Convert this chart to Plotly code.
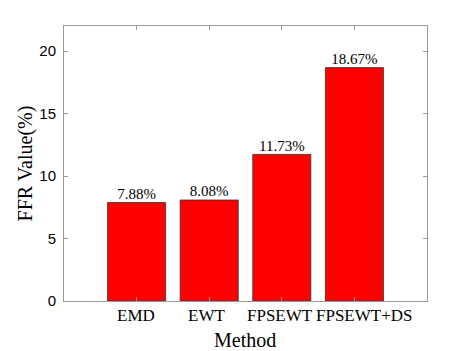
import plotly.graph_objects as go

methods = ["EMD", "EWT", "FPSEWT", "FPSEWT+DS"]
positions = [1, 2, 3, 4]
ffr_values = [7.88, 8.08, 11.73, 18.67]
labels = [f"{v:.2f}%" for v in ffr_values]
label_shifts = [-1, -3, -2, 10]

fig = go.Figure()
fig.add_trace(go.Bar(
    x=positions, y=ffr_values, width=0.8,
    marker=dict(color="#FF0000", line=dict(color="#333333", width=0.8)),
    showlegend=False,
))
fig.add_trace(go.Scatter(
    x=positions, y=ffr_values, mode="text", text=labels,
    textposition="top center",
    textfont=dict(family="Liberation Serif", size=15, color="black"),
    showlegend=False, cliponaxis=False,
))

for pos, name, dx in zip(positions, methods, label_shifts):
    fig.add_annotation(x=pos, y=0, xref="x", yref="y", text=name, showarrow=False,
                       xanchor="center", yanchor="top", yshift=-3, xshift=dx,
                       font=dict(family="Liberation Serif", size=17, color="black"))

fig.add_annotation(x=0.5, y=0, xref="paper", yref="paper", text="Method", showarrow=False,
                   xanchor="center", yanchor="middle", yshift=-39, xshift=-1,
                   font=dict(family="Liberation Serif", size=20, color="black"))

axis_common = dict(showline=True, linecolor="#9a9a9a", linewidth=1, mirror="ticks",
                   ticks="inside", ticklen=4, tickcolor="#9a9a9a", showgrid=False,
                   zeroline=False, automargin=False)

fig.update_layout(
    width=474, height=351,
    margin=dict(l=64, r=47, t=26, b=50),
    plot_bgcolor="white", paper_bgcolor="white",
    xaxis=dict(range=[0, 5], tickvals=positions, showticklabels=False,
               **axis_common),
    yaxis=dict(range=[0, 22], tickvals=[0, 5, 10, 15, 20],
               tickfont=dict(family="Liberation Sans", size=15, color="black"),
               title=dict(text="FFR Value(%)", font=dict(family="Liberation Serif", size=20, color="black"), standoff=1),
               ticklabelstandoff=4,
               **axis_common),
    bargap=0.2,
)

fig.write_html("out.html")
